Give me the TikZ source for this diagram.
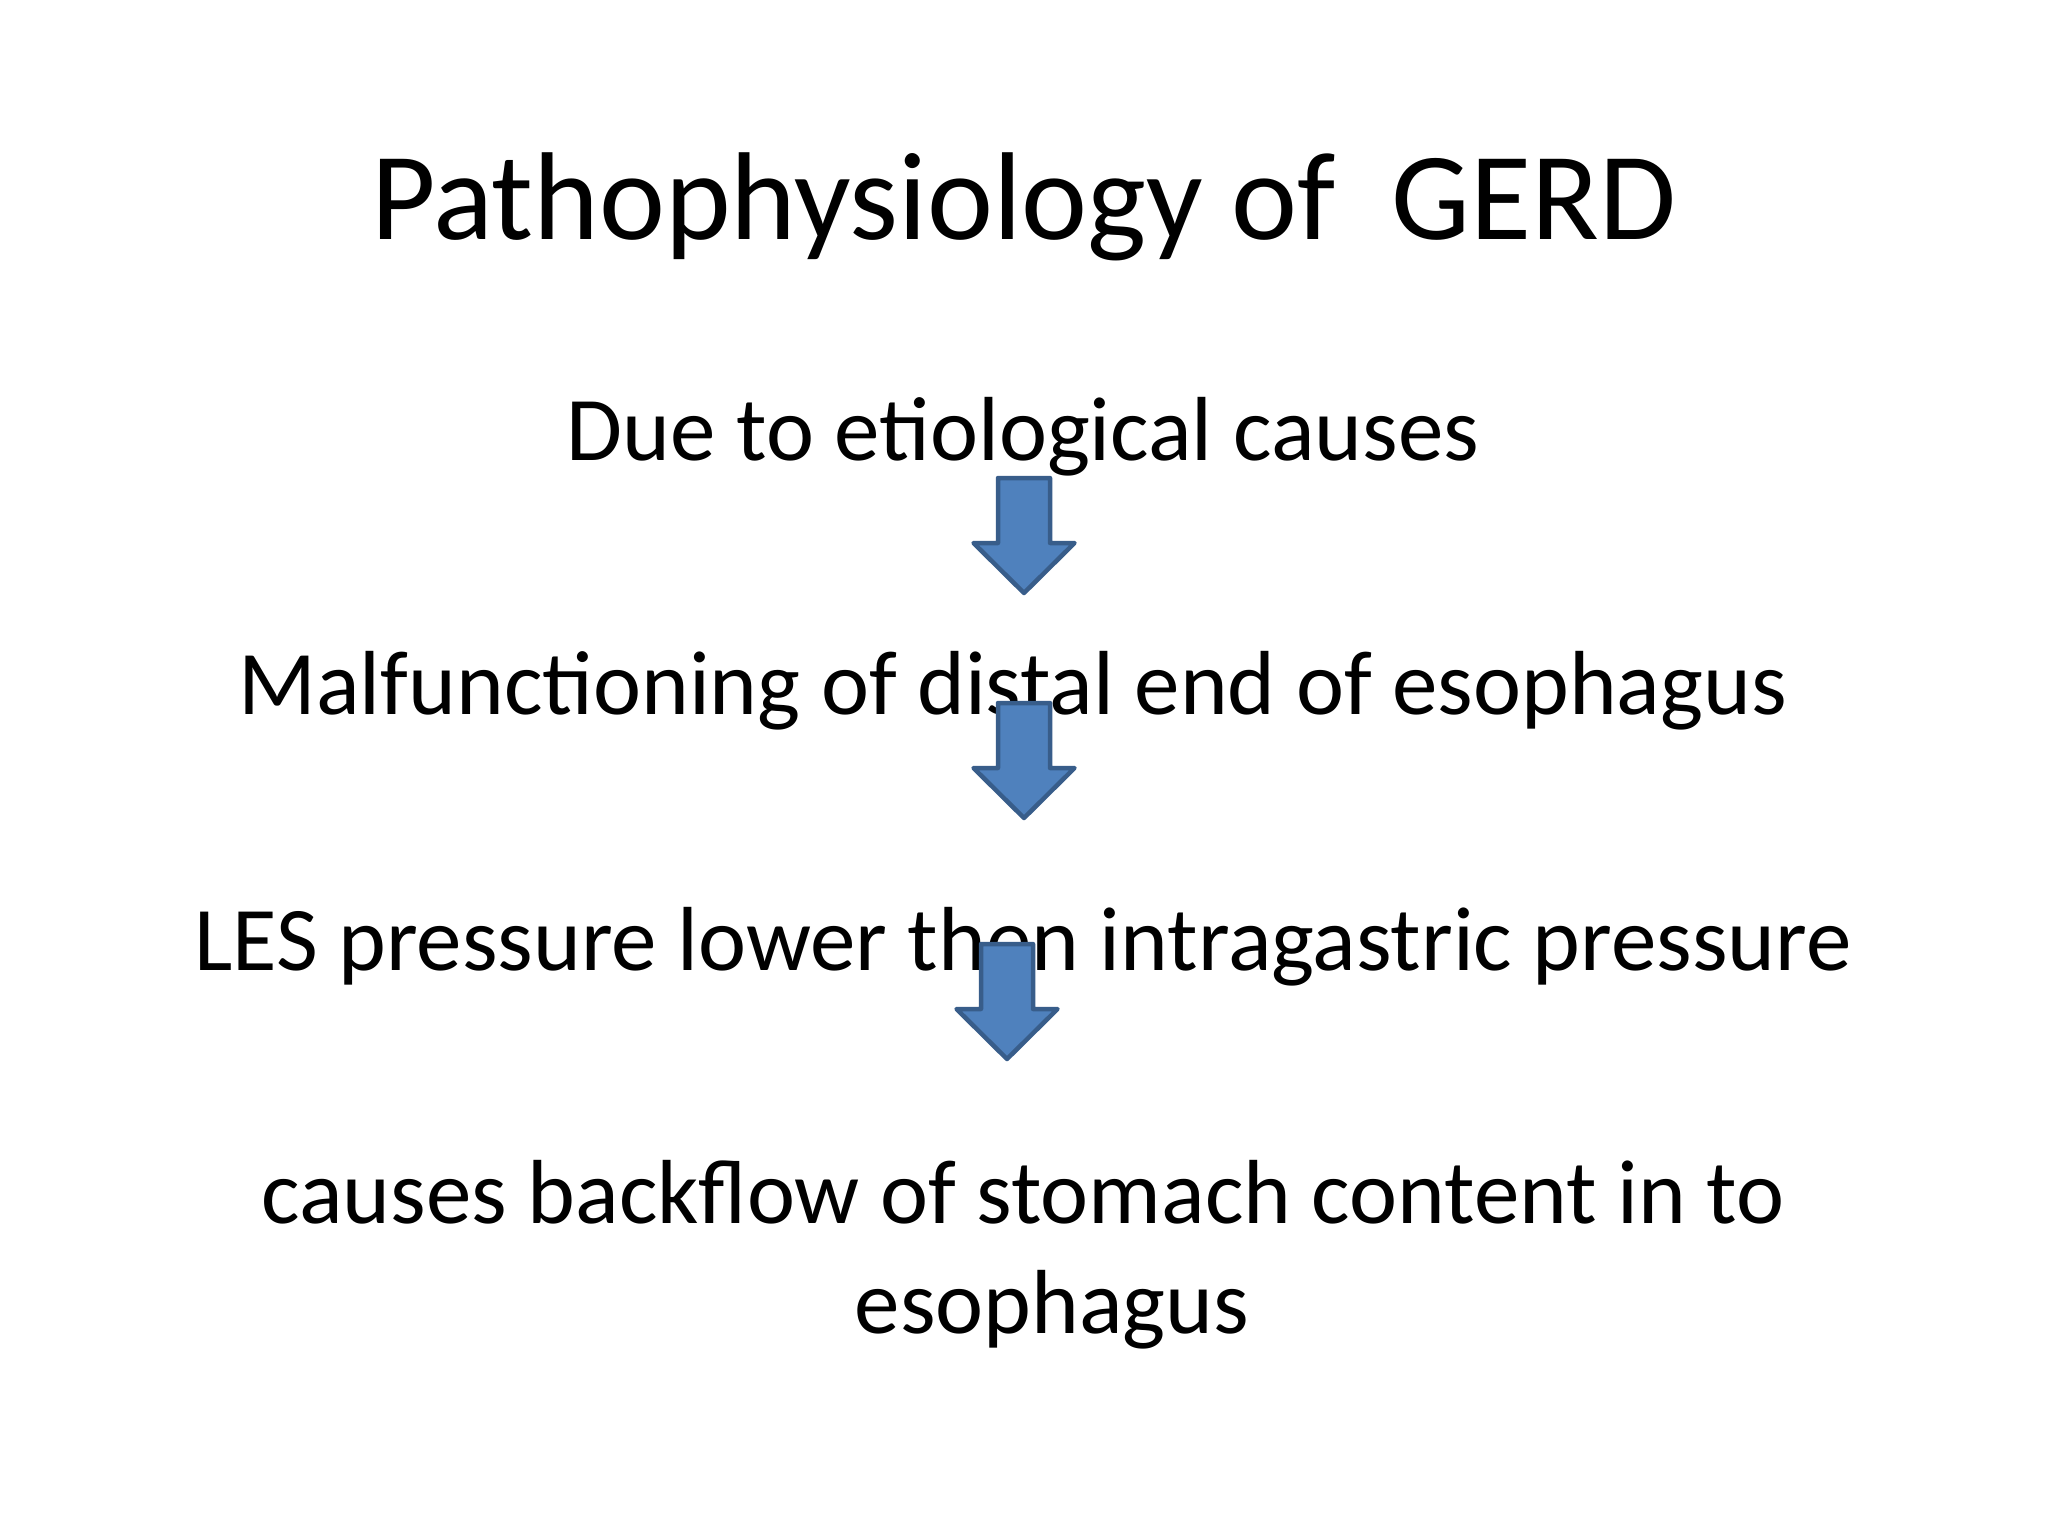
\documentclass[tikz,border=0pt]{standalone}
\usepackage{fontspec}
\setmainfont{Carlito}
\definecolor{arrowfill}{HTML}{4F81BD}
\definecolor{arrowline}{HTML}{385D8A}
\tikzset{
  txt/.style={anchor=base, inner sep=0pt, font=\fontsize{91}{110}\selectfont},
  ttl/.style={anchor=base, inner sep=0pt, font=\fontsize{125}{150}\selectfont},
  blockarrow/.style={fill=arrowfill, draw=arrowline, line width=4.5pt, line join=round},
  pics/downarrow/.style={code={
    \path[blockarrow] (-26,0) -- (26,0) -- (26,65) -- (50.5,65) -- (0,115) -- (-50.5,65) -- (-26,65) -- cycle;
  }}
}
\begin{document}
\begin{tikzpicture}[x=1pt,y=-1pt]
\useasboundingbox (0,0) rectangle (2048,1536);
\fill[white] (0,0) rectangle (2048,1536);
\node[ttl] (title) at (1024,239) {Pathophysiology of~~GERD};
\node[txt] (l1) at (1023,460) {Due to etiological causes};
\node[txt] (l2) at (1013,714) {Malfunctioning of distal end of esophagus};
\node[txt] (l3) at (1023,970) {LES pressure lower then intragastric pressure};
\node[txt] (l4) at (1023,1223) {causes backflow of stomach content in to};
\node[txt] (l5) at (1052,1333) {esophagus};
\pic at (1024,478) {downarrow};
\pic at (1024,703) {downarrow};
\pic at (1007,944) {downarrow};
\end{tikzpicture}
\end{document}
